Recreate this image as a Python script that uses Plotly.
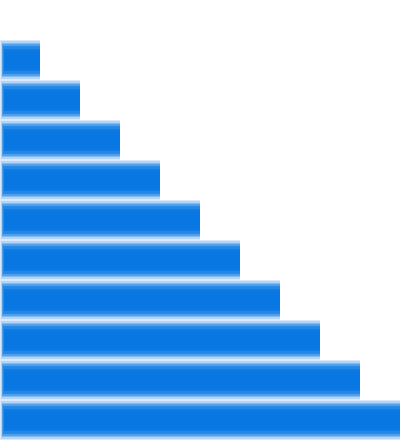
import plotly.graph_objects as go

categories = [0, 1, 2, 3, 4, 5, 6, 7, 8, 9, 10]
values = [0, 1, 2, 3, 4, 5, 6, 7, 8, 9, 10]

# layered bars to imitate the soft (blurred) edges of the reference
layers = [
    (1.00, 0.00, "#dbeafa"),
    (0.93, 0.02, "#b4d6f6"),
    (0.86, 0.04, "#85bcf1"),
    (0.78, 0.06, "#529fea"),
    (0.68, 0.08, "#2588e6"),
    (0.56, 0.10, "#0e7be4"),
    (0.44, 0.12, "#0877e2"),
]

fig = go.Figure()
for w, b, c in layers:
    fig.add_trace(go.Bar(
        x=[max(v - b, 0) for v in values], y=categories, base=b,
        orientation="h",
        width=w, marker=dict(color=c, line=dict(width=0)),
        hoverinfo="skip", showlegend=False,
    ))

fig.update_layout(
    width=400, height=440,
    margin=dict(l=0, r=0, t=0, b=0),
    paper_bgcolor="white", plot_bgcolor="white",
    barmode="overlay", bargap=0,
    xaxis=dict(range=[0, 10], visible=False, fixedrange=True),
    yaxis=dict(range=[10.5, -0.5], visible=False, fixedrange=True),
)

fig.write_html(
    "out.html",
    config={"displayModeBar": False, "staticPlot": True},
    post_script="document.body.style.margin='0';document.body.style.overflow='hidden';",
)
